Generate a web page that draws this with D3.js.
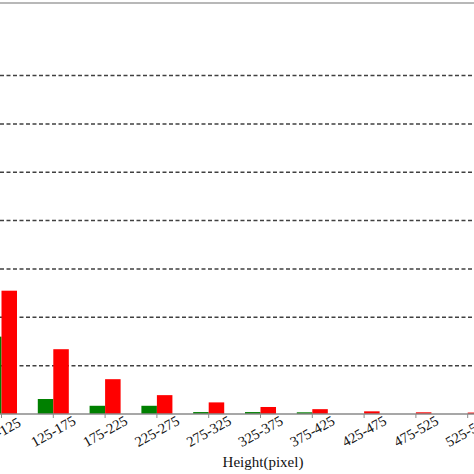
<!DOCTYPE html>
<html>
<head>
<meta charset="utf-8">
<script src="https://cdn.jsdelivr.net/npm/d3@7"></script>
<style>
  html, body { margin: 0; padding: 0; background: #fff; overflow: hidden; }
  svg { display: block; }
</style>
</head>
<body>
<svg id="chart" width="474" height="474"></svg>
<script>
const categories = ["75-125","125-175","175-225","225-275","275-325","325-375","375-425","425-475","475-525","525-575"];
const greenValues = [160, 31, 17, 17, 4, 4, 3.5, 0, 0, 0];
const redValues = [255, 134, 72, 39, 24, 14.5, 10, 5.5, 3.5, 3];
const gridTicks = [100, 200, 300, 400, 500, 600, 700];
const xTitle = "Height(pixel)";

const svg = d3.select("#chart");
const W = 474, H = 474;
const baseY = 414, topY = 3;

const x = d3.scaleBand().domain(categories).range([-24.4, 493.6]).padding(0);
const x1 = d3.scaleBand().domain(["g", "r"]).range([0, x.bandwidth()]).paddingInner(0).paddingOuter(0.67);
const y = d3.scaleLinear().domain([0, 850]).range([baseY, topY]);

// top frame line
svg.append("line")
  .attr("x1", 0).attr("x2", W)
  .attr("y1", y(850)).attr("y2", y(850))
  .attr("stroke", "#a0a0a0").attr("stroke-width", 1.5);

// dashed gridlines
svg.append("g").selectAll("line").data(gridTicks).join("line")
  .attr("x1", 0).attr("x2", W)
  .attr("y1", d => y(d)).attr("y2", d => y(d))
  .attr("stroke", "#404040").attr("stroke-width", 1.5)
  .attr("stroke-dasharray", "4,2.5");

// bars
const groups = svg.append("g").selectAll("g").data(categories).join("g")
  .attr("transform", d => `translate(${x(d)},0)`);

groups.append("rect")
  .attr("x", x1("g"))
  .attr("width", x1.bandwidth())
  .attr("y", (d, i) => y(greenValues[i]))
  .attr("height", (d, i) => baseY - y(greenValues[i]))
  .attr("fill", "#008000");

groups.append("rect")
  .attr("x", x1("r"))
  .attr("width", x1.bandwidth())
  .attr("y", (d, i) => y(redValues[i]))
  .attr("height", (d, i) => baseY - y(redValues[i]))
  .attr("fill", "#ff0000");

// x axis
const xAxis = d3.axisBottom(x).tickSize(4).tickFormat("");
const axG = svg.append("g").attr("transform", `translate(0,${baseY})`).call(xAxis);
axG.select(".domain").attr("stroke", "#8a8a8a").attr("stroke-width", 1.5).attr("d", `M0,0H${W}`);
axG.selectAll(".tick line").attr("stroke", "#8a8a8a").attr("stroke-width", 1);

// tick labels
svg.append("g").selectAll("text").data(categories).join("text")
  .attr("transform", d => `translate(${x(d) + x.bandwidth() / 2},431) rotate(-29)`)
  .attr("text-anchor", "middle")
  .attr("dy", "0.35em")
  .attr("font-family", "'Liberation Serif', 'Times New Roman', serif")
  .attr("font-size", 14.5)
  .attr("fill", "#111")
  .text(d => d);

// axis title
svg.append("text")
  .attr("x", 263).attr("y", 467)
  .attr("text-anchor", "middle")
  .attr("font-family", "'Liberation Serif', 'Times New Roman', serif")
  .attr("font-size", 15)
  .attr("fill", "#111")
  .text(xTitle);
</script>
</body>
</html>
